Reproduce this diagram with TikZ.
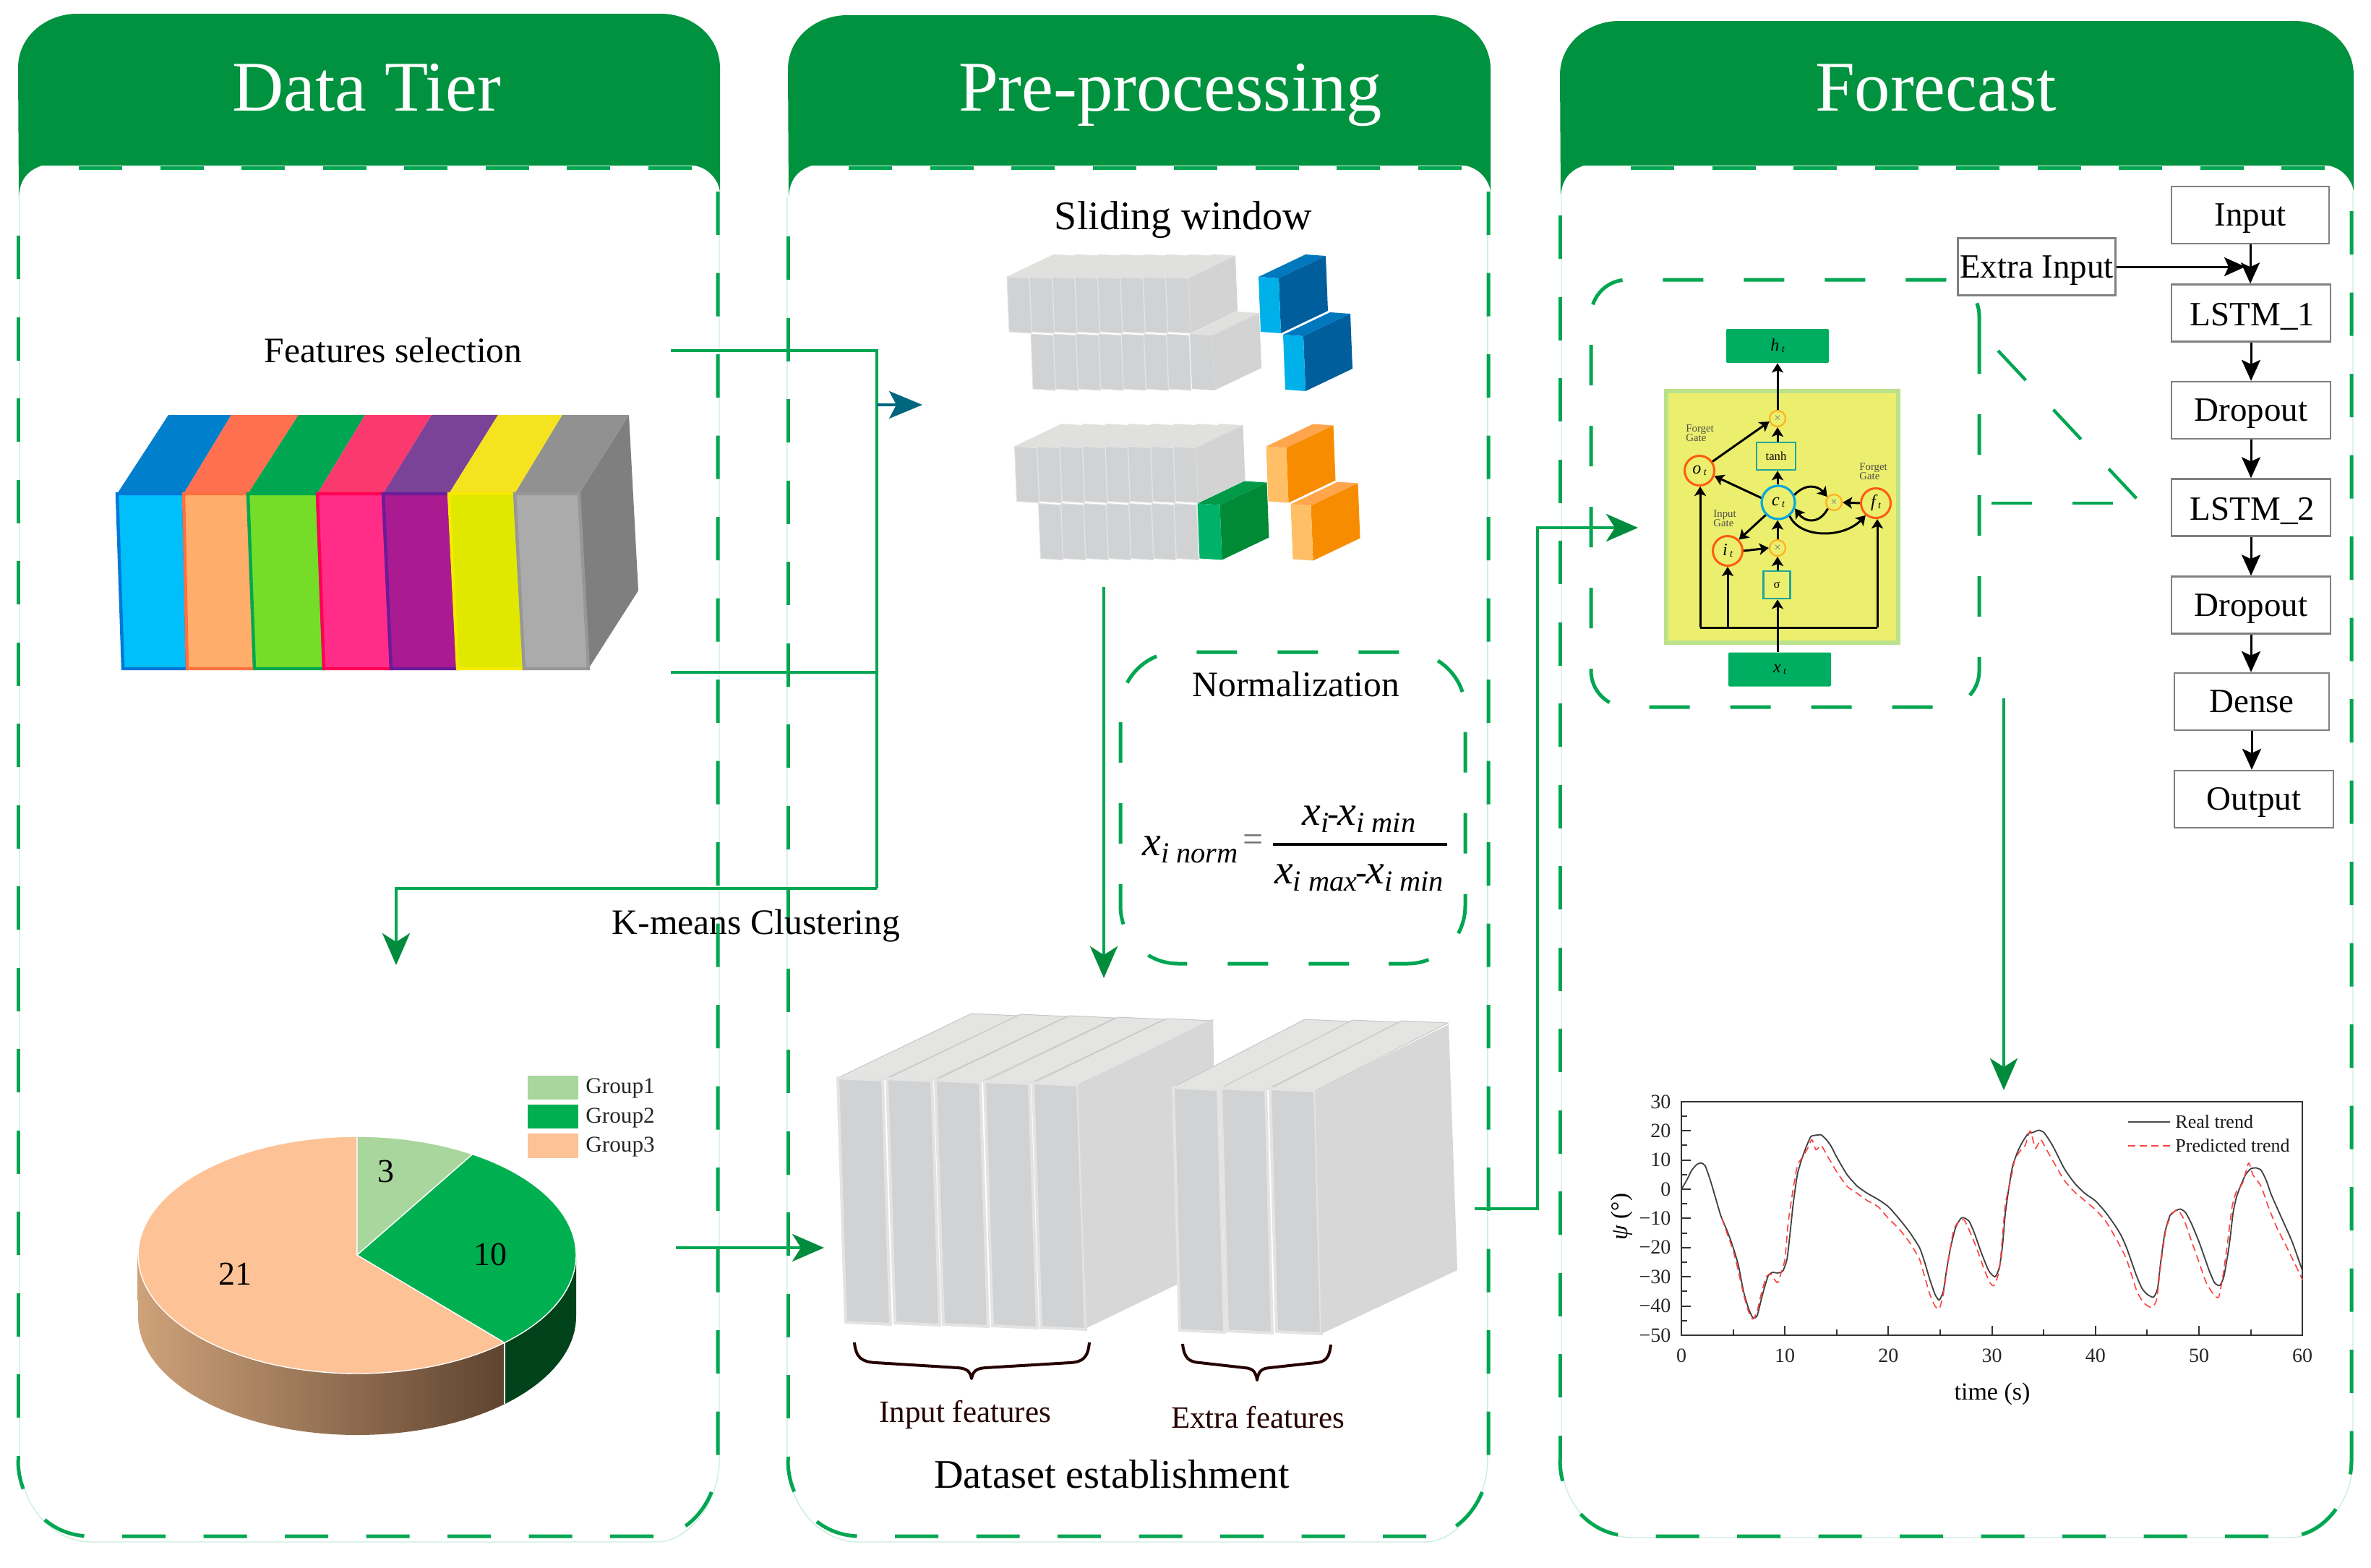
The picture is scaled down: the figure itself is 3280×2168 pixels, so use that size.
\documentclass[tikz,border=0pt]{standalone}
\usepackage{fontspec}
\setmainfont{Liberation Serif}
\usetikzlibrary{arrows.meta}
\definecolor{hdrG}{HTML}{00923F}
\definecolor{lineG}{HTML}{00A651}
\definecolor{headG}{HTML}{008C3C}
\definecolor{paleG}{HTML}{CDEEDF}
\definecolor{tealA}{HTML}{006680}
\definecolor{grF}{HTML}{D1D2D4}
\definecolor{grT}{HTML}{E0E0DE}
\definecolor{grS}{HTML}{D3D3D3}
\definecolor{seam}{HTML}{E3E3E3}
\definecolor{blF}{HTML}{00B0E8}\definecolor{blT}{HTML}{0078BE}\definecolor{blS}{HTML}{005E9C}
\definecolor{ogF}{HTML}{FFBF66}\definecolor{ogT}{HTML}{FFA64D}\definecolor{ogS}{HTML}{F78C00}
\definecolor{gnF}{HTML}{00B168}\definecolor{gnT}{HTML}{009A48}\definecolor{gnS}{HTML}{008A36}
\definecolor{pieO}{HTML}{FDC295}\definecolor{pieG}{HTML}{00B050}\definecolor{pieL}{HTML}{A8D69C}
\definecolor{sideL}{HTML}{CEA27A}\definecolor{sideR}{HTML}{5F4430}\definecolor{sideG}{HTML}{00431A}
\definecolor{lsY}{HTML}{ECEF6E}\definecolor{lsB}{HTML}{BAE28A}\definecolor{lsG}{HTML}{00AE62}
\definecolor{lsR}{HTML}{FF5A10}\definecolor{lsC}{HTML}{00A8DD}\definecolor{lsO}{HTML}{FFB020}\definecolor{lsT}{HTML}{1FA59C}
\definecolor{bA}{HTML}{00BFFB}\definecolor{bAb}{HTML}{0078D7}\definecolor{bAt}{HTML}{0080CC}
\definecolor{bB}{HTML}{FFAD6B}\definecolor{bBb}{HTML}{FF7040}\definecolor{bBt}{HTML}{FF7050}
\definecolor{bC}{HTML}{75DD28}\definecolor{bCb}{HTML}{00A84F}\definecolor{bCt}{HTML}{00A651}
\definecolor{bD}{HTML}{FF2D87}\definecolor{bDb}{HTML}{FF0055}\definecolor{bDt}{HTML}{FA3A6E}
\definecolor{bE}{HTML}{AA1A91}\definecolor{bEb}{HTML}{6A1B9A}\definecolor{bEt}{HTML}{7B4397}
\definecolor{bF}{HTML}{E0E800}\definecolor{bFb}{HTML}{F6EA00}\definecolor{bFt}{HTML}{F5E320}
\definecolor{bG}{HTML}{ABABAB}\definecolor{bGb}{HTML}{979797}\definecolor{bGt}{HTML}{919191}\definecolor{bGs}{HTML}{7F7F7F}
\newcommand\pxf[1]{\fontsize{#1}{#1}\selectfont}
\newcommand\panelhead[3]{\fill[hdrG] (#1,{#3+75}) .. controls (#1,{#3+30}) and ({#1+40},#3) .. ({#1+82},#3) -- ({#2-82},#3) .. controls ({#2-40},#3) and (#2,{#3+30}) .. (#2,{#3+75}) -- (#2,265) .. controls ({#2-2},250) and ({#2-15},232) .. ({#2-36},229) -- ({#1+33},229) .. controls ({#1+12},236) and ({#1+2},250) .. ({#1+1},273) -- cycle;}
\newcommand\panelpale[3]{\draw[draw=paleG,line width=.7pt] (#1,273) -- (#1,2020) .. controls (#1,2075) and ({#1+40},#3) .. ({#1+100},#3) -- ({#2-90},#3) .. controls ({#2-43},#3) and ({#2-3},2075) .. ({#2-3},2020) -- ({#2-3},265);}
% L, R, right-side phase, bottom start x, left first dash y, top first dash x
\newcommand\paneldash[6]{%
 \draw[gdash,dash phase=#3pt] ({#2-3},265) -- ({#2-3},2020) .. controls ({#2-3},2075) and ({#2-43},2125) .. ({#2-90},2125);
 \draw[gdash] (#4,2125) -- ({#1+100},2125) .. controls ({#1+40},2125) and (#1,2075) .. (#1,2020);
 \draw[gdash] (#1,#5) -- (#1,2020);
 \draw[gdash] (#6,232) -- ({#2-36},232);}
\newcommand\slabF[4]{\path[#4] (#1,#2) -- ({#1+#3},{#2+2}) -- ({#1+#3+3},{#2+78}) -- ({#1+3},{#2+76}) -- cycle;}
\newcommand\slabT[4]{\path[#4] (#1,#2) -- ({#1+65},{#2-31}) -- ({#1+#3+65},{#2-29}) -- ({#1+#3},{#2+2}) -- cycle;}
\newcommand\slabS[4]{\path[#4] ({#1+#3},{#2+2}) -- ({#1+#3+65},{#2-29}) -- ({#1+#3+68},{#2+47}) -- ({#1+#3+3},{#2+78}) -- cycle;}
\newcommand\slidegroup[6]{%
 \foreach \i in {0,...,7}{\pgfmathsetmacro\xx{1393+31.4*\i}
  \slabT{\xx}{383}{31}{fill=grT,draw=seam,line width=.3pt}
  \slabF{\xx}{383}{31}{fill=grF,draw=seam,line width=.5pt}}
 \slabS{1613}{383}{31}{fill=grS}
 \foreach \i in {0,...,6}{\pgfmathsetmacro\xx{1426+31.3*\i}
  \slabF{\xx}{462}{31}{fill=grF,draw=seam,line width=.5pt}}
 \slabT{1646}{462}{31}{fill=#2}
 \slabS{1646}{462}{31}{fill=#3}
 \slabF{1646}{462}{31}{fill=#1}
 \slabT{1741}{383}{28}{fill=#5}\slabS{1741}{383}{28}{fill=#6}\slabF{1741}{383}{28}{fill=#4}
 \slabT{1775}{463}{28}{fill=#5}\slabS{1775}{463}{28}{fill=#6}\slabF{1775}{463}{28}{fill=#4}
}
\newcommand\book[9]{%
 \path[fill=#9] (#5,574) -- (#6,574) -- (#2,683) -- (#1,683) -- cycle;
 \path[fill=#7,draw=#8,line width=2.2pt,line join=miter] (#1,683) -- (#2,683) -- (#3,925) -- (#4,925) -- cycle;}
\newcommand\dsTop[6]{\path[fill=#6!88!white,draw=#5,line width=.5pt] (#1,#2) -- ({#1+#3},{#2+#4}) -- ({#1+#3+64},{#2+#4+3}) -- ({#1+62},{#2+3}) -- cycle;}
\newcommand\dsFront[4]{\path[fill=grF,draw=seam,line width=2pt] (#1,#2) -- ({#1+62},{#2+3}) -- ({#1+62+#4},{#2+#3+3}) -- ({#1+#4},{#2+#3}) -- cycle;}
\newcommand\xsub[1]{{\pxf{29}\itshape x}\raisebox{-5pt}{\pxf{20.2}\itshape #1}}
\newcommand\minis[2]{{\pxf{12}\itshape #1\raisebox{-1pt}{\pxf{7} #2}}}
\tikzset{
 hdrtext/.style={text=white,font=\pxf{49.3},anchor=base,inner sep=0pt},
 labelA/.style={font=\pxf{24.8},anchor=base,inner sep=0pt,text=black},
 labelB/.style={font=\pxf{28.1},anchor=base,inner sep=0pt,text=black},
 labelC/.style={font=\pxf{21.5},anchor=base,inner sep=0pt,text=black!85!red},
 gdash/.style={draw=lineG,line width=2.5pt,dash pattern=on 30pt off 26.25pt},
 gdashB/.style={draw=lineG,line width=2.5pt,dash pattern=on 28pt off 28pt},
 gline/.style={draw=lineG,line width=2.4pt},
 garrow/.style={draw=lineG,line width=2.4pt,-{Stealth[length=22pt,width=19pt,inset=6pt,color=headG]}},
 tarrow/.style={draw=tealA,line width=1.6pt,-{Stealth[length=23pt,width=19pt,inset=5pt,color=tealA]}},
 barrow/.style={draw=black,line width=1.5pt,-{Stealth[length=14.5pt,width=13pt,inset=3pt]}},
 larrow/.style={draw=black,line width=1.5pt,-{Stealth[length=6.5pt,width=8pt,inset=1.5pt]}},
 lbox/.style={draw=black!50,fill=white,line width=1.2pt,font=\pxf{23.5},inner sep=0pt,text height=19pt,text depth=4pt,minimum height=39.5pt},
 gbox/.style={fill=lsG,inner sep=0pt,minimum width=71pt,minimum height=23.5pt,rounded corners=1pt},
 rcirc/.style={draw=lsR,line width=1.5pt,circle,inner sep=0pt,minimum size=20.5pt},
 ocirc/.style={draw=lsO,line width=1.1pt,circle,inner sep=0pt,minimum size=11pt,font=\pxf{8},text=black!55},
 tbox/.style={draw=lsT,line width=1.3pt,inner sep=0pt},
 gatelab/.style={font=\pxf{7.4},align=left,anchor=north west,inner sep=0pt,text=black!70,text depth=0pt},
 ticklab/.style={font=\pxf{14},inner sep=0pt,text=black!85},
 legtext/.style={font=\pxf{13},anchor=west,inner sep=0pt,text=black!90},
 grplab/.style={font=\pxf{15.6},anchor=west,inner sep=0pt,text=black!85},
 dbrace/.style={draw=black!85!red,line width=2pt,line join=round},
}
\begin{document}
\begin{tikzpicture}[x=.5pt,y=-.5pt]
\useasboundingbox (0,0) rectangle (3280,2168);
\fill[white] (0,0) rectangle (3280,2168);
%---- panels
\begin{scope}[xshift=1pt]\panelpale{25}{996}{2133}\end{scope}
\begin{scope}[xshift=-.6pt]\panelpale{1090}{2062}{2133}\end{scope}
\begin{scope}[xshift=1pt]\panelpale{2158}{3256}{2127}\end{scope}
\paneldash{25}{996}{0}{904}{326}{109}
\paneldash{1090}{2062}{0}{1973}{327}{1174}
\paneldash{2158}{3256}{42.75}{3138}{298}{2256}
\panelhead{25}{996}{19}
\panelhead{1090}{2062}{21}
\panelhead{2158}{3256}{29}
\node[hdrtext] (hA) at (507,153) {Data Tier};
\node[hdrtext] (hB) at (1619,153) {Pre-processing};
\node[hdrtext] (hC) at (2678,153) {Forecast};
%---- feature books
\book{162}{254}{259}{170}{233}{320}{bA}{bAb}{bAt}
\book{254}{343}{352}{259}{320}{413}{bB}{bBb}{bBt}
\book{343}{439}{448}{352}{413}{505}{bC}{bCb}{bCt}
\book{439}{530}{541}{448}{505}{597}{bD}{bDb}{bDt}
\book{530}{621}{633}{541}{597}{689}{bE}{bEb}{bEt}
\book{621}{712}{725}{633}{689}{778}{bF}{bFb}{bFt}
\path[fill=bGs] (801,683) -- (870,574) -- (883,817) -- (814,925) -- cycle;
\book{712}{801}{814}{725}{778}{870}{bG}{bGb}{bGt}
\node[labelA] (tFS) at (544,501) {Features selection};
\node[labelA] (tKM) at (1046,1292) {K-means Clustering};
%---- pie
\path[left color=sideL,right color=sideR,shading=axis] (190,1736) -- plot[domain=180:312.3,samples=90] ({494+303*cos(\x)},{1736-164*sin(\x)}) -- plot[domain=312.3:180,samples=90] ({494+303*cos(\x)},{1821-164*sin(\x)}) -- cycle;
\path[fill=sideG] (698,1857) -- plot[domain=312.3:360,samples=40] ({494+303*cos(\x)},{1736-164*sin(\x)}) -- plot[domain=360:312.3,samples=40] ({494+303*cos(\x)},{1821-164*sin(\x)}) -- cycle;
\draw[white,line width=.6pt] (698,1857) -- (698,1942);
\path[fill=pieO,draw=white,line width=.7pt] (494,1736) -- plot[domain=-47.7:-270,samples=120] ({494+303*cos(\x)},{1736-164*sin(\x)}) -- cycle;
\path[fill=pieL,draw=white,line width=.7pt] (494,1736) -- plot[domain=90:58.2,samples=30] ({494+303*cos(\x)},{1736-164*sin(\x)}) -- cycle;
\path[fill=pieG,draw=white,line width=.7pt] (494,1736) -- plot[domain=58.2:-47.7,samples=60] ({494+303*cos(\x)},{1736-164*sin(\x)}) -- cycle;
\node[font=\pxf{23},inner sep=0pt] (pA) at (534,1620) {3};
\node[font=\pxf{23},inner sep=0pt] (pB) at (678,1735) {10};
\node[font=\pxf{23},inner sep=0pt] (pC) at (325,1762) {21};
\fill[pieL] (730,1488) rectangle (800,1521);
\fill[pieG] (730,1528) rectangle (800,1561);
\fill[pieO] (730,1568) rectangle (800,1602);
\node[grplab] (gA) at (810,1505) {Group1};
\node[grplab] (gB) at (810,1546) {Group2};
\node[grplab] (gC) at (810,1586) {Group3};
%---- sliding window
\node[font=\pxf{28},anchor=base,inner sep=0pt] (tSW) at (1637,317) {Sliding window};
\slidegroup{grF}{grT}{grS}{blF}{blT}{blS}
\begin{scope}[shift={(10.5,234.5)}]
\slidegroup{gnF}{gnT}{gnS}{ogF}{ogT}{ogS}
\end{scope}
%---- normalization
\draw[gdashB,rounded corners=40pt] (1921,1333) -- (2027,1333) -- (2027,902) -- (1550,902) -- (1550,1333) -- (1921,1333);
\node[labelA] (tNorm) at (1793,963) {Normalization};
\node[anchor=base west,inner sep=0pt] (fL) at (1580,1183) {\xsub{i norm}};
\node[font=\pxf{25},text=black!55,inner sep=0pt] (fE) at (1734,1166) {=};
\node[anchor=base,inner sep=0pt] (fN) at (1880,1141) {\xsub{i}{\pxf{24}\hspace{-1pt}-\hspace{-1pt}}\xsub{i min}};
\node[anchor=base,inner sep=0pt] (fD) at (1880,1222) {\xsub{i max}{\pxf{24}\hspace{-1pt}-\hspace{-1pt}}\xsub{i min}};
\draw[black,line width=2.4pt] (1761,1168) -- (2002,1168);
%---- dataset
\foreach \xx/\yy in {1159/1491,1227/1492,1294/1494,1362/1496,1429/1498}{\dsTop{\xx}{\yy}{185}{-89}{black!22}{grT}\dsFront{\xx}{\yy}{338}{11}}
\path[fill=grS!90!white] (1491,1501) -- (1678,1409) -- (1684,1750) -- (1503,1837) -- cycle;
\foreach \xx/\yy in {1623/1504,1689/1505,1757/1506}{\dsTop{\xx}{\yy}{182}{-94}{black!22}{grT}\dsFront{\xx}{\yy}{336}{9}}
\path[fill=grS!90!white] (1819,1509) -- (2004,1417) -- (2016,1757) -- (1828,1845) -- cycle;
\draw[dbrace] (1182,1857) .. controls (1184,1878) and (1192,1884) .. (1212,1885) -- (1325,1892) .. controls (1338,1893) and (1342,1897) .. (1344,1907) .. controls (1346,1897) and (1350,1893) .. (1363,1892) -- (1480,1885) .. controls (1498,1884) and (1505,1878) .. (1507,1857);
\draw[dbrace] (1636,1859) .. controls (1638,1878) and (1644,1884) .. (1660,1885) -- (1722,1892) .. controls (1733,1893) and (1737,1897) .. (1739,1909) .. controls (1741,1897) and (1745,1893) .. (1756,1892) -- (1820,1885) .. controls (1834,1884) and (1839,1878) .. (1841,1860);
\node[labelC] (tIF) at (1335,1967) {Input features};
\node[labelC] (tEF) at (1740,1975) {Extra features};
\node[labelB] (tDS) at (1538,2058) {Dataset establishment};
%---- green connectors
\coordinate (cFA) at (928,485);
\coordinate (cFB) at (928,930);
\coordinate (cJA) at (1213,485);
\coordinate (cJB) at (1213,930);
\coordinate (cJC) at (1213,1229);
\coordinate (cJD) at (548,1229);
\coordinate (cKM) at (548,1335);
\coordinate (cTS) at (1213,560);
\coordinate (cTE) at (1276,560);
\coordinate (cSWo) at (1527,812);
\coordinate (cSWi) at (1527,1353);
\coordinate (cPo) at (935,1726);
\coordinate (cPi) at (1140,1726);
\coordinate (cDo) at (2040,1672);
\coordinate (cDa) at (2127,1672);
\coordinate (cDb) at (2127,730);
\coordinate (cDi) at (2266,730);
\coordinate (cLo) at (2772,966);
\coordinate (cLi) at (2772,1508);
\draw[gline] (cFA) -- (cJA) -- (cJC);
\draw[gline] (cFB) -- (cJB);
\draw[garrow] (cJC) -- (cJD) -- (cKM);
\draw[tarrow] (cTS) -- (cTE);
\draw[garrow] (cSWo) -- (cSWi);
\draw[garrow] (cPo) -- (cPi);
\draw[garrow] (cDo) -- (cDa) -- (cDb) -- (cDi);
\draw[garrow] (cLo) -- (cLi);
%---- LSTM inset
\draw[gdashB,rounded corners=25pt] (2738,461) -- (2738,978) -- (2201,978) -- (2201,387) -- (2738,387) -- (2738,461);
\path[fill=lsY,draw=lsB,line width=3pt] (2305,541) rectangle (2626,889);
\node[gbox] (ht) at (2459,478.5) {\minis{h}{t}};
\node[gbox] (xt) at (2462,926) {\minis{x}{t}};
\node[rcirc] (nO) at (2351,651) {\minis{o}{t}};
\node[rcirc] (nI) at (2390,762) {\minis{i}{t}};
\node[rcirc] (nF) at (2595,696) {\minis{f}{t}};
\node[draw=lsC,line width=1.6pt,circle,inner sep=0pt,minimum size=23pt] (nC) at (2460,695) {\minis{c}{t}};
\node[ocirc] (oT) at (2459,579) {×};
\node[ocirc] (oB) at (2459,758) {×};
\node[ocirc] (oR) at (2537,695) {×};
\node[tbox,minimum width=27pt,minimum height=19pt,font=\pxf{8.3}] (bT) at (2457,631) {tanh};
\node[tbox,minimum width=18.5pt,minimum height=19pt,font=\pxf{8.3}] (bS) at (2458,809) {σ};
\coordinate (jL) at (2352,868);
\coordinate (jI) at (2390,868);
\coordinate (jM) at (2459,868);
\coordinate (jR) at (2597,868);
\draw[draw=black,line width=1.5pt,line join=miter] (jL) -- (jR);
\draw[larrow] (jL) -- (jL |- nO.south);
\draw[larrow] (jI) -- (nI.south);
\draw[larrow] (jR) -- (jR |- nF.south);
\draw[larrow] (xt.north -| jM) -- (bS.south -| jM);
\draw[larrow] (bS.north -| jM) -- (oB.south);
\draw[larrow] (oB.north) -- (nC.south -| oB);
\draw[larrow] (nI.east) -- (oB.west);
\draw[larrow] (nC.225) -- (nI.45);
\draw[larrow] (nC.165) -- (nO.-20);
\draw[larrow] (nC.north -| jM) -- (bT.south -| jM);
\draw[larrow] (bT.north -| jM) -- (oT.south);
\draw[larrow] (oT.north) -- (ht.south -| oT);
\draw[larrow] (nO.35) -- (oT.200);
\draw[larrow] (nF.west) -- (oR.east);
\draw[larrow] (nC.25) .. controls (2498,668) and (2515,672) .. (oR.140);
\draw[larrow] (oR.225) .. controls (2518,724) and (2498,724) .. (nC.-20);
\draw[larrow] (nC.-50) .. controls (2490,745) and (2550,745) .. (nF.-130);
\node[gatelab] (gO) at (2332,587) {Forget\\[-.5pt]Gate};
\node[gatelab] (gF) at (2572,640) {Forget\\[-.5pt]Gate};
\node[gatelab] (gI) at (2370,705) {Input\\[-.5pt]Gate};
%---- small triangle dashes
\coordinate (tA) at (2764,485);
\coordinate (tB) at (2956,690);
\coordinate (tC) at (2755,696);
\coordinate (tD) at (2923,696);
\draw[draw=lineG,line width=2.2pt,dash pattern=on 28pt off 28pt] (tA) -- (tB);
\draw[draw=lineG,line width=2.2pt,dash pattern=on 28pt off 28pt] (tC) -- (tD);
%---- network boxes
\node[lbox,minimum width=109pt] (bIn) at (3113,297.5) {Input};
\node[lbox,minimum width=109pt] (bEx) at (2817.5,369) {Extra Input};
\node[lbox,minimum width=110pt,text height=21pt,text depth=4pt] (bL1) at (3114,433) {\hspace{2pt}LSTM\_1};
\node[lbox,minimum width=110pt] (bD1) at (3114,567.5) {Dropout};
\node[lbox,minimum width=110pt,text height=21pt,text depth=4pt] (bL2) at (3114,702) {\hspace{2pt}LSTM\_2};
\node[lbox,minimum width=110pt] (bD2) at (3114,837) {Dropout};
\node[lbox,minimum width=107pt] (bDe) at (3115,970.5) {Dense};
\node[lbox,minimum width=110pt] (bOu) at (3118,1105.5) {Output};
\coordinate (eI) at (3106,369);
\draw[barrow] (bEx.east) -- (eI);
\draw[barrow] (bIn.south) -- (bL1.north -| bIn.south);
\draw[barrow] (bL1.south) -- (bD1.north);
\draw[barrow] (bD1.south) -- (bL2.north);
\draw[barrow] (bL2.south) -- (bD2.north);
\draw[barrow] (bD2.south) -- (bDe.north -| bD2.south);
\draw[barrow] (bDe.south) -- (bOu.north -| bDe.south);
%---- chart
\begin{scope}[shift={(2326,1645)},x=7.16pt,y=2.019pt]
\draw[black!80,line width=1.2pt] (0,-50) rectangle (60,30);
\foreach \t in {0,10,...,60}{\draw[black!80,line width=1pt] (\t,-50) -- ++(0pt,6.5pt);
  \node[ticklab,anchor=north] (xl\t) at (\t,-54.5) {\t};}
\foreach \t in {5,15,...,55}{\draw[black!80,line width=1pt] (\t,-50) -- ++(0pt,4pt);}
\foreach \v/\s in {30/30,20/20,10/10,0/0,-10/−10,-20/−20,-30/−30,-40/−40,-50/−50}{\draw[black!80,line width=1pt] (0,\v) -- ++(6.5pt,0pt);
  \node[ticklab,anchor=east] (yl\v) at (-1,\v) {\s};}
\foreach \v in {25,15,...,-45}{\draw[black!80,line width=1pt] (0,\v) -- ++(4pt,0pt);}
\draw[black!75,line width=.9pt,line join=round] plot[smooth,tension=.35] coordinates {(0,0)(0.5,3)(1,6.5)(1.5,8.5)(1.9,9)(2.3,8)(2.8,3)(3.3,-3)(3.8,-9)(4.5,-15)(5,-20)(5.5,-26)(6,-35)(6.5,-41)(6.9,-44)(7.3,-43.5)(7.7,-38)(8,-34)(8.4,-29.5)(8.8,-28.5)(9.3,-28.7)(9.8,-28)(10.2,-24)(10.5,-15)(10.8,-5)(11.2,5)(11.6,10)(12,14)(12.5,18)(13,18.5)(13.5,18.6)(14,17)(14.5,14.5)(15,11)(16,5)(17,1)(18,-1.5)(19,-3.5)(20,-6)(21,-10)(22,-14.5)(23,-20)(23.5,-25)(24,-31)(24.5,-36)(24.9,-38)(25.3,-35)(25.6,-28)(26,-20)(26.5,-13)(27,-10)(27.3,-9.8)(27.8,-11)(28.3,-15)(29,-22)(29.7,-28)(30.3,-30)(30.7,-27)(31,-20)(31.3,-8)(31.7,2)(32,8)(32.5,13)(33,16.5)(33.5,19)(34,19.5)(34.5,20.2)(35,19.5)(35.5,17)(36,14)(37,7)(38,2)(39,-1.5)(40,-4)(41,-8)(42,-13)(42.5,-16)(43,-20)(43.5,-25)(44,-30)(44.5,-34)(45,-36)(45.6,-37)(46,-34)(46.3,-25)(46.7,-15)(47.2,-9)(47.7,-7.5)(48.2,-6.8)(48.7,-8)(49.3,-12)(50,-18)(50.5,-23)(51,-28)(51.5,-32)(52,-33)(52.4,-30)(52.8,-22)(53,-17)(53.3,-8)(53.6,-3)(54,1)(54.5,5)(55,7)(55.5,7.3)(56,6.5)(56.5,3)(57,-2)(58,-10)(59,-18)(60,-28)};
\draw[red!75!white,line width=.8pt,dash pattern=on 5pt off 3pt,line join=round] plot[smooth,tension=.35] coordinates {(3.9,-10)(4.5,-16)(5,-21)(5.5,-28)(6,-36)(6.5,-42)(6.9,-44.5)(7.3,-42)(7.7,-36)(8.2,-30)(8.6,-29)(9,-31)(9.3,-32)(9.6,-29)(10,-24)(10.3,-12)(10.7,-2)(11.2,8)(11.7,11)(12.2,14)(12.6,17)(13,13.5)(13.5,15)(14,12)(14.5,9)(15,6)(16,1)(17,-1.5)(18,-4)(19,-6)(20,-10)(21,-13.5)(22,-18)(23,-24)(23.5,-30)(24,-36)(24.5,-40)(24.9,-41)(25.3,-36)(25.8,-24)(26.3,-14)(26.8,-11)(27.3,-10.5)(27.8,-14)(28.5,-20)(29.2,-27)(29.8,-32)(30.2,-33)(30.7,-28)(31,-17)(31.3,-5)(31.8,3)(32.2,10)(32.7,13)(33.2,15)(33.7,20)(34.2,14)(34.7,17)(35.2,14)(36,9)(37,3)(38,-1)(39,-4)(40,-7)(41,-11)(42,-17)(43,-24)(44,-35)(44.7,-39)(45.4,-40.5)(45.9,-38)(46.3,-26)(46.8,-14)(47.3,-9)(47.9,-7)(48.5,-10)(49.2,-17)(50,-25)(50.7,-32)(51.4,-36)(51.9,-37)(52.3,-30)(52.7,-20)(53.2,-6)(53.6,-1)(54.2,2)(54.8,9)(55.2,5)(56,1)(56.7,-6)(57.5,-13)(58.5,-20)(60,-31)};
\end{scope}
\draw[black!70,line width=1pt] (2944,1552) -- (3002,1552);
\draw[red!75!white,line width=.8pt,dash pattern=on 5pt off 3pt] (2944,1585) -- (3002,1585);
\node[legtext] (lgA) at (3009,1552) {Real trend};
\node[legtext] (lgB) at (3009,1585) {Predicted trend};
\node[font=\pxf{17},inner sep=0pt] (xlab) at (2756,1928) {time (s)};
\node[font=\pxf{16.5},inner sep=0pt,rotate=90] (ylab) at (2244,1683) {\textit{ψ} (°)};
\end{tikzpicture}
\end{document}
